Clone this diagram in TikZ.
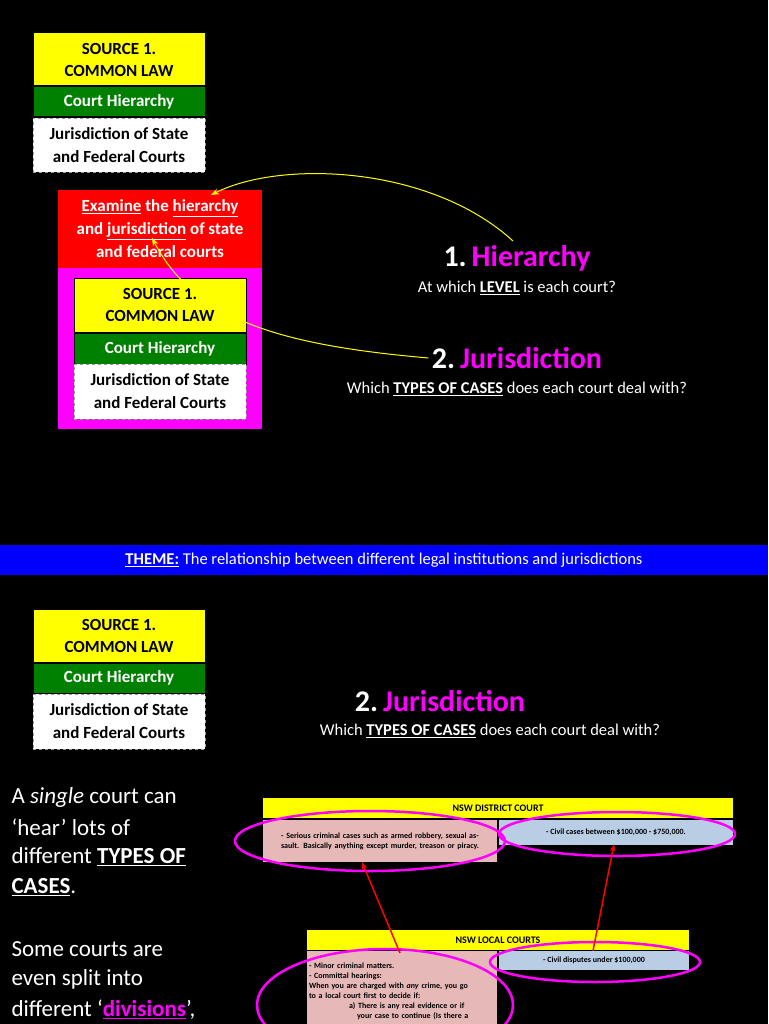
\documentclass[tikz,border=0pt]{standalone}
\usepackage{fontspec}
\setmainfont{Carlito}
\usetikzlibrary{arrows.meta}
\definecolor{mag}{RGB}{255,0,255}
\definecolor{grn}{RGB}{0,128,0}
\definecolor{ylw}{RGB}{255,255,0}
\definecolor{pinkc}{RGB}{230,185,184}
\definecolor{bluec}{RGB}{185,205,229}
\definecolor{themeb}{RGB}{0,0,255}
\tikzset{
 srcy/.style={fill=ylw,draw=black,line width=1pt,minimum width=172pt,align=center,font=\fontsize{17}{22}\selectfont\bfseries,text=black,inner sep=0},
 srcg/.style={fill=grn,draw=black,line width=1pt,minimum width=172pt,font=\fontsize{17}{20}\selectfont\bfseries,text=white,inner sep=0},
 srcw/.style={fill=white,draw=black!40,dashed,minimum width=172pt,align=center,font=\fontsize{17}{23}\selectfont\bfseries,text=black,inner sep=0},
 big/.style={font=\fontsize{30}{32}\selectfont\bfseries,text=white},
 sub/.style={font=\fontsize{16.5}{18}\selectfont,text=white},
 body/.style={font=\fontsize{23}{30}\selectfont,text=white,anchor=west},
 hdr/.style={fill=ylw,font=\fontsize{10}{11}\selectfont\bfseries,inner sep=0},
 cell/.style={font=\fontsize{8}{10}\selectfont\bfseries,align=center,inner sep=0},
 ell/.style={draw=mag,line width=2.5pt},
 yarr/.style={draw=ylw,line width=1pt,-{Stealth[length=8pt]}},
 rarr/.style={draw=red,line width=1.5pt,-{Stealth[length=7pt]}}
}
\newcommand{\uln}[1]{\underline{#1}}
\begin{document}
\begin{tikzpicture}[x=1pt,y=-1pt]
\fill[black] (0,0) rectangle (768,1024);
\useasboundingbox (0,0) rectangle (768,1024);
% top source group
\node[srcy,minimum height=53pt] (s1y) at (119,59.5) {SOURCE 1.\\COMMON LAW};
\node[srcg,minimum height=30pt] (s1g) at (119,102) {Court Hierarchy};
\node[srcw,minimum height=54pt] (s1w) at (119,145) {Jurisdiction of State\\and Federal Courts};
% red + magenta
\node[fill=red,minimum width=204pt,minimum height=78pt,inner sep=0,align=center,text=white,font=\fontsize{17}{23}\selectfont\bfseries] (red) at (160,229) {\uln{Examine} the \uln{hierarchy}\\and \uln{jurisdiction} of state\\and federal courts};
\node[fill=mag,minimum width=204pt,minimum height=161pt,inner sep=0] (magb) at (160,348.5) {};
\node[srcy,minimum height=54pt] (s2y) at (160,305) {SOURCE 1.\\COMMON LAW};
\node[srcg,minimum height=31pt] (s2g) at (160,348.5) {Court Hierarchy};
\node[srcw,minimum height=55pt] (s2w) at (160,391.5) {Jurisdiction of State\\and Federal Courts};
% headings
\node[big] (h1) at (517,258) {1.\,\textcolor{mag}{Hierarchy}};
\node[sub] (h1s) at (517,288) {At which \uln{\textbf{LEVEL}} is each court?};
\node[big] (h2) at (517,358) {2.\,\textcolor{mag}{Jurisdiction}};
\node[sub] (h2s) at (517,389) {Which \uln{\textbf{TYPES OF CASES}} does each court deal with?};
\coordinate (h1a) at (513,241);
\draw[yarr] (h1a) .. controls (430,165) and (280,160) .. (211,195);
\draw[yarr] (h2.west) .. controls (280,345) and (195,320) .. (152,238);
% theme bar
\node[fill=themeb,minimum width=768pt,minimum height=30pt,inner sep=0,text=white,font=\fontsize{16.5}{18}\selectfont] (theme) at (384,560) {\uln{\textbf{THEME:}} The relationship between different legal institutions and jurisdictions};
% bottom source
\node[srcy,minimum height=53pt] (s3y) at (119,635.5) {SOURCE 1.\\COMMON LAW};
\node[srcg,minimum height=30pt] (s3g) at (119,678) {Court Hierarchy};
\node[srcw,minimum height=55pt] (s3w) at (119,721.5) {Jurisdiction of State\\and Federal Courts};
\node[big] (h3) at (440,701) {2.\,\textcolor{mag}{Jurisdiction}};
\node[sub] (h3s) at (490,731) {Which \uln{\textbf{TYPES OF CASES}} does each court deal with?};
% left text
\node[body] (t1) at (8,797) {A \textit{single} court can};
\node[body] (t2) at (8,827) {‘hear’ lots of};
\node[body] (t3) at (8,857) {different \uln{\textbf{TYPES OF}}};
\node[body] (t4) at (8,887) {\uln{\textbf{CASES}}.};
\node[body] (t5) at (8,949) {Some courts are};
\node[body] (t6) at (8,979) {even split into};
\node[body] (t7) at (8,1010) {different ‘\textcolor{mag}{\uln{\textbf{divisions}}}’,};
% district court
\node[hdr,minimum width=470pt,minimum height=20pt] (dh) at (498,808) {NSW DISTRICT COURT};
\node[cell,fill=pinkc,minimum width=234pt,minimum height=42pt,text width=226pt] (dl) at (380,841) {- Serious criminal cases such as armed robbery, sexual assault. Basically anything except murder, treason or piracy.};
\node[cell,fill=bluec,minimum width=234pt,minimum height=25pt] (dr) at (616,832.5) {- Civil cases between \$100,000 - \$750,000.};
% local courts
\node[hdr,minimum width=382pt,minimum height=20pt] (lh) at (498,940) {NSW LOCAL COURTS};
\node[cell,fill=pinkc,minimum width=190pt,minimum height=80pt,text width=186pt,anchor=north,align=left] (ll) at (402,951) {- Minor criminal matters.\\- Committal hearings:\\When you are charged with \textit{any} crime, you go\\to a local court first to decide if:\\\hspace*{40pt}a) There is any real evidence or if\\\hspace*{48pt}your case to continue (Is there a};
\node[cell,fill=bluec,minimum width=190pt,minimum height=19pt] (lr) at (594,960.5) {- Civil disputes under \$100,000};
% ellipses
\draw[ell] (370,841) ellipse (135pt and 30pt);
\draw[ell] (617,834) ellipse (118pt and 22pt);
\draw[ell] (385,1005) ellipse (128pt and 56pt);
\draw[ell] (595,962) ellipse (105pt and 20pt);
% red arrows
\draw[rarr] (ll.north) ++(-2,2) -- ([xshift=-18pt]dl.south);
\draw[rarr] ([xshift=-1pt]lr.north) -- ([xshift=-2pt,yshift=1pt]dr.south);
\end{tikzpicture}
\end{document}
